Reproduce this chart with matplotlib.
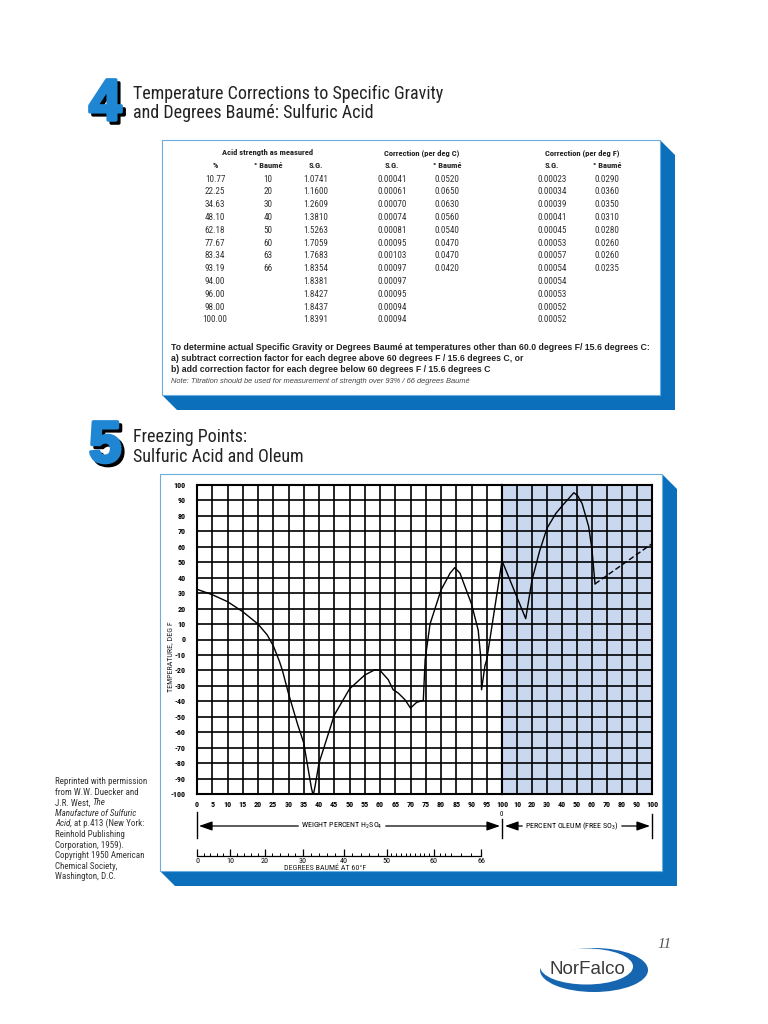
import numpy as np
import matplotlib
matplotlib.use("Agg")
import matplotlib.pyplot as plt
from matplotlib import font_manager
from matplotlib.patches import Polygon, Rectangle, Ellipse
import matplotlib.patheffects as pe

names = {f.name for f in font_manager.fontManager.ttflist}
SANS = "Liberation Sans"
SERIF = "Liberation Serif"
narrow_cands = ["Liberation Sans Narrow", "Arial Narrow", "Roboto Condensed",
                "Open Sans Condensed", "Nimbus Sans Narrow"]
NARROW = next((c for c in narrow_cands if c in names), None)
if NARROW is None:
    NARROW, NS = SANS, 0.9
else:
    NS = 1.0

plt.rcParams["font.family"] = [SANS, "DejaVu Sans"]
plt.rcParams["mathtext.fontset"] = "custom"
plt.rcParams["mathtext.rm"] = NARROW
plt.rcParams["mathtext.it"] = NARROW + ":italic"
plt.rcParams["mathtext.bf"] = NARROW + ":bold"

# ---------------- Table data ----------------
acid_pct = ["10.77", "22.25", "34.63", "48.10", "62.18", "77.67", "83.34", "93.19",
            "94.00", "96.00", "98.00", "100.00"]
acid_baume = ["10", "20", "30", "40", "50", "60", "63", "66", "", "", "", ""]
acid_sg = ["1.0741", "1.1600", "1.2609", "1.3810", "1.5263", "1.7059", "1.7683", "1.8354",
           "1.8381", "1.8427", "1.8437", "1.8391"]
corr_c_sg = ["0.00041", "0.00061", "0.00070", "0.00074", "0.00081", "0.00095", "0.00103",
             "0.00097", "0.00097", "0.00095", "0.00094", "0.00094"]
corr_c_baume = ["0.0520", "0.0650", "0.0630", "0.0560", "0.0540", "0.0470", "0.0470", "0.0420",
                "", "", "", ""]
corr_f_sg = ["0.00023", "0.00034", "0.00039", "0.00041", "0.00045", "0.00053", "0.00057",
             "0.00054", "0.00054", "0.00053", "0.00052", "0.00052"]
corr_f_baume = ["0.0290", "0.0360", "0.0350", "0.0310", "0.0280", "0.0260", "0.0260", "0.0235",
                "", "", "", ""]
table_groups = ["Acid strength as measured", "Correction (per deg C)", "Correction (per deg F)"]
table_cols = ["%", "° Baumé", "S.G.", "S.G.", "° Baumé", "S.G.", "° Baumé"]

# ---------------- Freezing point data ----------------
h2so4_pct = [0, 5, 10, 15, 20, 23, 25, 27, 28, 30, 33, 35, 37.5, 38.1, 38.7, 40, 45, 50, 55,
             58.3, 60, 62.7, 64.3, 66, 68.2, 70, 72, 74.2, 74.8, 76.4, 80, 83, 84.5, 86.2,
             90, 92.2, 93, 93.3, 94.4, 95, 97.2, 100]
h2so4_temp = [32.5, 29, 24.5, 18, 10, 3, -4, -14, -20, -35, -55, -67, -96, -101, -95, -80,
              -49, -32, -23, -19.6, -20, -26, -32.5, -34.7, -39, -44.4, -40.7, -39.4, -13, 10,
              32, 43, 46.5, 43, 23, 6, -11, -32.5, -17, -13, 15, 51]
oleum_pct = [0, 7.4, 15.8, 19.9, 25, 30, 35.9, 40, 44.6, 47.9, 50.5, 53.4, 57.8, 60, 62]
oleum_temp = [51, 33.5, 13.5, 38, 57, 72, 81.6, 86.4, 91.4, 95, 93, 88, 73, 58, 36]
oleum_dash_pct = [62, 100]
oleum_dash_temp = [36, 62]

h2so4_ticks = list(range(0, 101, 5))
oleum_ticks = list(range(0, 101, 10))
temp_ticks = list(range(-100, 101, 10))

baume_marks = [0, 10, 20, 30, 40, 50, 60, 63, 66]
baume_marks_pct = [0, 10.77, 22.25, 34.63, 48.10, 62.18, 77.67, 83.34, 93.19]
baume_labels = [0, 10, 20, 30, 40, 50, 60, 66]

credit_lines = [
    [("Reprinted with permission", "normal")],
    [("from W.W. Duecker and", "normal")],
    [("J.R. West, ", "normal"), ("The", "italic")],
    [("Manufacture of Sulfuric", "italic")],
    [("Acid", "italic"), (", at p.413 (New York:", "normal")],
    [("Reinhold Publishing", "normal")],
    [("Corporation, 1959).", "normal")],
    [("Copyright 1950 American", "normal")],
    [("Chemical Society,", "normal")],
    [("Washington, D.C.", "normal")],
]

# ---------------- Figure ----------------
W, H = 768, 1024
fig = plt.figure(figsize=(W / 100, H / 100), dpi=100)
bg = fig.add_axes([0, 0, 1, 1])
bg.set_xlim(0, W)
bg.set_ylim(H, 0)
bg.axis("off")

BLUE_SHADOW = "#0b6fbb"
BLUE_EDGE = "#6aaee0"
NUM_BLUE = "#1f86d3"
TXT = "#222222"
SHADE = "#c9d8ef"


def panel(L, T, R, B, d=15):
    bg.add_patch(Polygon([(L, B), (L + d, B + d), (R + d, B + d), (R + d, T + d), (R, T), (R, B)],
                         closed=True, fc=BLUE_SHADOW, ec="none", zorder=1))
    bg.add_patch(Rectangle((L, T), R - L, B - T, fc="white", ec=BLUE_EDGE, lw=0.8, zorder=2))


panel(162, 140, 660, 395)
panel(160, 474, 662, 871)

num_effects = [
    pe.Stroke(linewidth=2.5, foreground="black", offset=(2.2, -2.2)),
    pe.Stroke(linewidth=2.5, foreground=NUM_BLUE),
    pe.SimplePatchShadow(offset=(0, 0), shadow_rgbFace=NUM_BLUE, alpha=1.0),
]
for s, y in [("4", 120), ("5", 462)]:
    bg.text(89, y, s, fontsize=42, fontweight="bold", family=SANS, color="black",
            ha="left", va="baseline", path_effects=num_effects)

hkw = dict(fontsize=13.0 * NS, family=NARROW, color=TXT, va="baseline", ha="left")
bg.text(133, 99, "Temperature Corrections to Specific Gravity", **hkw)
bg.text(133, 117.5, "and Degrees Baumé: Sulfuric Acid", **hkw)
bg.text(133, 442, "Freezing Points:", **hkw)
bg.text(133, 462, "Sulfuric Acid and Oleum", **hkw)

# ---- table ----
group_x = [267, 422, 582]
for g, gx in zip(table_groups, group_x):
    bg.text(gx, 153, g, fontsize=6.1 * NS, fontweight="bold", family=NARROW, ha="center",
            va="center", color=TXT, zorder=3)
col_x = [215, 268, 316, 392, 447, 552, 607]
for c, cx in zip(table_cols, col_x):
    bg.text(cx, 166, c, fontsize=6.1 * NS, fontweight="bold", family=NARROW, ha="center",
            va="center", color=TXT, zorder=3)
columns = [acid_pct, acid_baume, acid_sg, corr_c_sg, corr_c_baume, corr_f_sg, corr_f_baume]
for col, cx in zip(columns, col_x):
    for i, v in enumerate(col):
        bg.text(cx, 179 + i * 12.8, v, fontsize=6.6 * NS, family=NARROW, ha="center",
                va="center", color="#333333", zorder=3)

para = ["To determine actual Specific Gravity or Degrees Baumé at temperatures other than 60.0 degrees F/ 15.6 degrees C:",
        "a) subtract correction factor for each degree above 60 degrees F / 15.6 degrees C, or",
        "b) add correction factor for each degree below 60 degrees F / 15.6 degrees C"]
for i, line in enumerate(para):
    bg.text(171, 347 + i * 11.5, line, fontsize=6.3, fontweight="bold", family=SANS,
            ha="left", va="center", color=TXT, zorder=3)
bg.text(171, 381.5, "Note: Titration should be used for measurement of strength over 93% / 66 degrees Baumé",
        fontsize=5.4, style="italic", family=SANS, ha="left", va="center", color="#444444",
        zorder=3)

# ---- chart axes ----
ax = fig.add_axes([197 / W, 1 - 794 / H, 305 / W, 309 / H])
ax2 = fig.add_axes([502 / W, 1 - 794 / H, 150 / W, 309 / H])
ax2.set_facecolor(SHADE)
for a, ticks, labels in [(ax, h2so4_ticks, [str(t) for t in h2so4_ticks]),
                         (ax2, oleum_ticks, [""] + [str(t) for t in oleum_ticks[1:]])]:
    a.set_xlim(0, 100)
    a.set_ylim(-100, 100)
    a.set_xticks(ticks)
    a.set_xticklabels(labels, fontsize=5.8, fontweight="bold", family=NARROW)
    a.set_yticks(temp_ticks)
    a.grid(True, color="black", lw=1.2)
    a.tick_params(length=0, pad=5)
    for s in a.spines.values():
        s.set_linewidth(1.5)
ax.set_yticklabels([str(t) for t in temp_ticks], fontsize=5.8, fontweight="bold", family=NARROW)
ax.tick_params(axis="y", pad=8)
ax2.set_yticklabels([])

ax.plot(h2so4_pct, h2so4_temp, color="black", lw=1.0, zorder=3)
ax2.plot(oleum_pct, oleum_temp, color="black", lw=1.0, zorder=3)
ax2.plot(oleum_dash_pct, oleum_dash_temp, color="black", lw=1.0, ls=(0, (4, 2)), zorder=3)

bg.text(170, 657, "TEMPERATURE, DEG F", rotation=90, ha="center", va="center",
        fontsize=5.8 * NS, family=NARROW, color=TXT, zorder=3)

# ---- weight percent / oleum arrows ----
for xb, y0, y1 in [(197, 812, 838), (502, 819, 838), (652, 814, 838)]:
    bg.plot([xb, xb], [y0, y1], color="black", lw=1.0, zorder=3)
bg.text(501, 814, "0", fontsize=5, family=NARROW, ha="center", va="center", zorder=3)

renderer = fig.canvas.get_renderer()
akw = dict(arrowstyle="-|>,head_length=0.8,head_width=0.28", color="black", lw=0.9,
           shrinkA=0, shrinkB=0, mutation_scale=10)


def arrow_label(text, xc, y, x0, x1):
    t = bg.text(xc, y, text, ha="center", va="center", fontsize=5.8 * NS, family=NARROW,
                zorder=3)
    bb = t.get_window_extent(renderer)
    inv = bg.transData.inverted()
    lx = inv.transform((bb.x0, bb.y0))[0]
    rx = inv.transform((bb.x1, bb.y1))[0]
    bg.annotate("", xy=(x0, y), xytext=(lx - 3, y), arrowprops=akw, zorder=3)
    bg.annotate("", xy=(x1, y), xytext=(rx + 3, y), arrowprops=akw, zorder=3)


arrow_label("WEIGHT PERCENT H$_2$SO$_4$", 342, 826, 199, 500)
arrow_label("PERCENT OLEUM (FREE SO$_3$)", 572, 826, 505, 650)

# ---- Baume scale ----
axb = fig.add_axes([197 / W, 1 - 856 / H, 305 / W, 10 / H])
axb.set_xlim(0, 100)
axb.set_ylim(0, 1)
axb.patch.set_visible(False)
for s in ["top", "left", "right"]:
    axb.spines[s].set_visible(False)
axb.spines["bottom"].set_bounds(0, baume_marks_pct[-1])
axb.spines["bottom"].set_linewidth(0.9)
axb.set_yticks([])
axb.set_xticks(np.interp(baume_labels, baume_marks, baume_marks_pct))
axb.set_xticklabels([str(b) for b in baume_labels], fontsize=5.8 * NS, family=NARROW)
minor_deg = [d for d in list(range(0, 50, 2)) + list(range(50, 67)) if d not in baume_labels]
axb.set_xticks(np.interp(minor_deg, baume_marks, baume_marks_pct), minor=True)
axb.tick_params(axis="x", which="major", direction="in", length=5, width=0.9, pad=1.5)
axb.tick_params(axis="x", which="minor", direction="in", length=2.5, width=0.7)
bg.text(325, 868, "DEGREES BAUMÉ AT 60°F", fontsize=5.8 * NS, family=NARROW, ha="center",
        va="center", color=TXT, zorder=3)

# ---- credit text ----
for i, segs in enumerate(credit_lines):
    y = 786 + i * 10.6
    prev = None
    for txt, sty in segs:
        kw = dict(fontsize=6.5 * NS, family=NARROW, style=sty, color="#333333")
        if prev is None:
            prev = bg.text(55, y, txt, ha="left", va="bottom", **kw)
        else:
            prev = bg.annotate(txt, xy=(1, 0), xycoords=prev, ha="left", va="bottom", **kw)

# ---- page number and logo ----
bg.text(657, 948, "11", family=SERIF, style="italic", fontsize=11, color="#555555",
        va="baseline", ha="left")
bg.add_patch(Ellipse((594, 970), 108, 44, fc="#1565b0", ec="none", zorder=2))
bg.add_patch(Ellipse((586.5, 966.5), 93, 36, fc="white", ec="none", zorder=2))
bg.text(587, 969, "NorFalco", family=SANS, fontsize=13.5, color="#3a3a3a", ha="center",
        va="center", zorder=3)

fig.savefig("out.png", dpi=100)
